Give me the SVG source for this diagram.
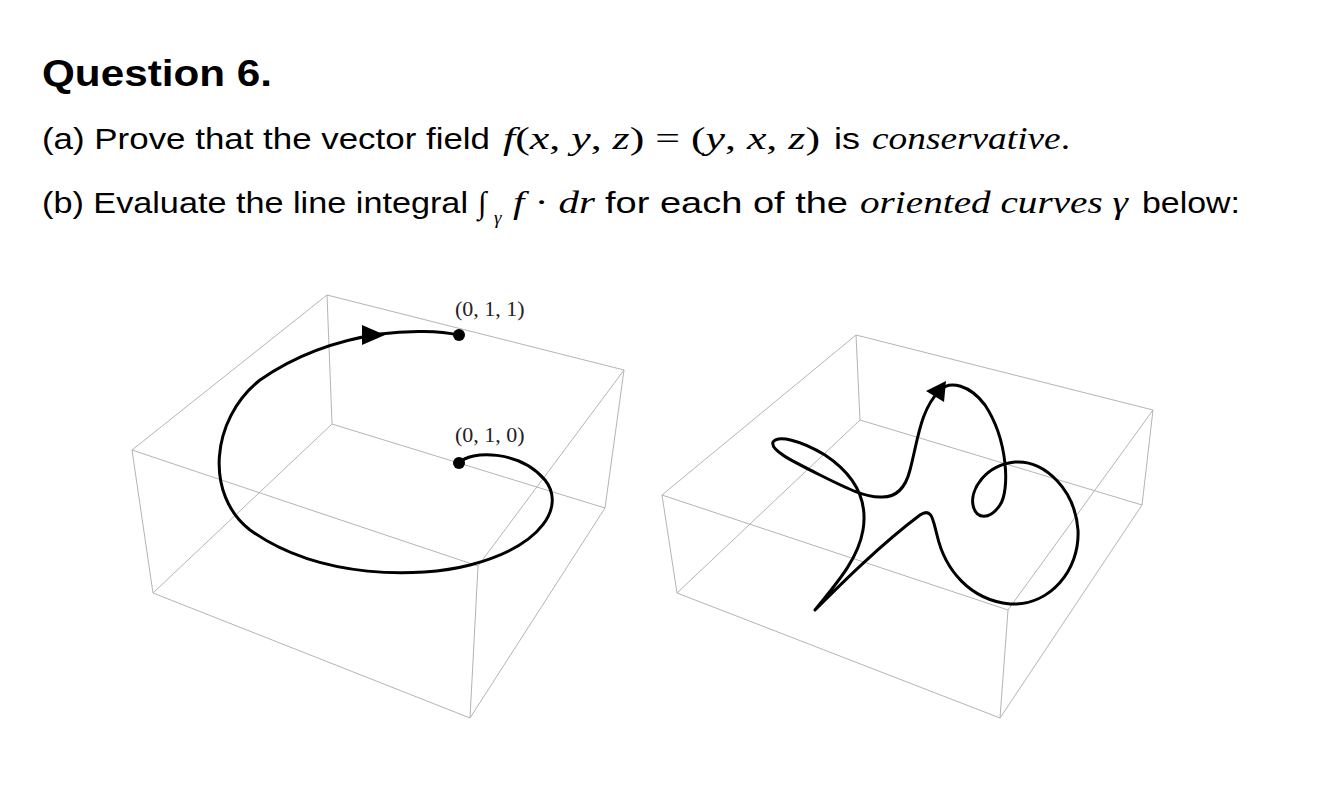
<svg xmlns="http://www.w3.org/2000/svg" width="1333" height="812" viewBox="0 0 1333 812">
<style>
.t{font-family:"Liberation Sans",Arial,sans-serif;font-size:30px;fill:#000}
.m{font-family:"Liberation Serif","Times New Roman",serif;font-style:italic;font-size:31px;fill:#000}
.r{font-family:"Liberation Serif","Times New Roman",serif;font-size:31px;fill:#000}
.lbl{font-family:"Liberation Serif","Times New Roman",serif;font-size:22px;fill:#222}
.box{fill:none;stroke:#b4b4b4;stroke-width:1}
.crv{fill:none;stroke:#000;stroke-width:3;stroke-linejoin:round;stroke-linecap:round}
</style>
<rect width="1333" height="812" fill="#fff"/>
<g id="title"><text x="42" y="86" class="t" style="font-weight:bold;font-size:36px" textLength="230" lengthAdjust="spacingAndGlyphs">Question 6.</text></g>
<g id="parta">
<text x="42" y="149" class="t" textLength="448" lengthAdjust="spacingAndGlyphs">(a) Prove that the vector field</text>
<text x="503" y="149" class="m" textLength="317" lengthAdjust="spacingAndGlyphs">f<tspan font-style="normal">(</tspan>x<tspan font-style="normal">, </tspan>y<tspan font-style="normal">, </tspan>z<tspan font-style="normal">) = (</tspan>y<tspan font-style="normal">, </tspan>x<tspan font-style="normal">, </tspan>z<tspan font-style="normal">)</tspan></text>
<text x="834" y="149" class="t" textLength="26" lengthAdjust="spacingAndGlyphs">is</text>
<text x="872" y="149" class="m" textLength="198" lengthAdjust="spacingAndGlyphs">conservative<tspan font-style="normal">.</tspan></text>
</g>
<g id="partb">
<text x="42" y="213" class="t" textLength="426" lengthAdjust="spacingAndGlyphs">(b) Evaluate the line integral</text>
<text x="478" y="213" class="r">∫</text>
<text x="494" y="224" class="m" style="font-size:19px">γ</text>
<text x="513" y="213" class="m" textLength="82" lengthAdjust="spacingAndGlyphs">f <tspan font-style="normal">·</tspan> dr</text>
<text x="605" y="213" class="t" textLength="243" lengthAdjust="spacingAndGlyphs">for each of the</text>
<text x="860" y="213" class="m" textLength="268" lengthAdjust="spacingAndGlyphs">oriented curves γ</text>
<text x="1142" y="213" class="t" textLength="98" lengthAdjust="spacingAndGlyphs">below:</text>
</g>
<g id="box1">
<path class="box" d="M327,295 L624,370 L478,566 L132,450 Z M132,450 L153,593 L470,718 L605,508 L332,424 L153,593 M327,295 L332,424 M624,370 L605,508 M478,566 L470,718"/>
</g>
<g id="box2">
<path class="box" d="M856,335 L1153,410 L1008,610 L662,495 Z M662,495 L677,593 L1000,718 L1142,505 L860,420 L677,593 M856,335 L860,420 M1153,410 L1142,505 M1008,610 L1000,718"/>
</g>
<g id="connectors">
<path class="crv" d="M459,463 C470,450 520,450 545,480 C565,505 545,545 470,565 C420,578 320,580 250,530 C205,495 210,420 260,380 C300,352 340,340 380,334 C410,330 440,331 459,335"/>
<polygon points="362,325 385,335 362,345" fill="#000"/>
<path class="crv" d="M815,610 C840,585 880,545 920,515 C932,507 933,520 937,535 C945,570 970,600 1010,604 C1050,606 1080,570 1078,530 C1075,490 1045,460 1015,462 C985,465 970,490 973,505 C976,520 990,520 1000,505 C1010,490 1008,440 985,405 C970,385 950,380 940,390 C920,410 918,440 910,470 C905,490 895,498 880,497 C865,497 850,490 820,475 C790,460 770,450 773,442 C778,435 800,440 825,455 C855,475 868,500 863,530 C858,560 835,585 815,610"/>
<polygon points="926,391 946,381 944,402" fill="#000"/>
</g>
<g id="pt1"><circle cx="459" cy="335" r="6" fill="#000"/><text x="455" y="316" class="lbl">(0, 1, 1)</text></g>
<g id="pt0"><circle cx="459" cy="463" r="6" fill="#000"/><text x="455" y="442" class="lbl">(0, 1, 0)</text></g>
</svg>
